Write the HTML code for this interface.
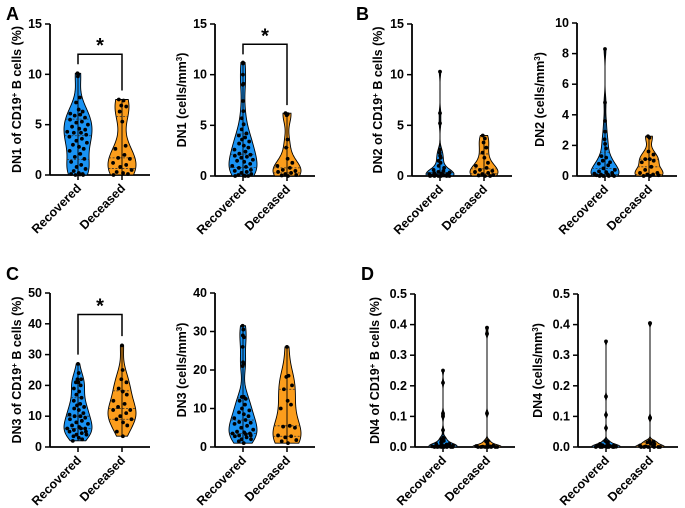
<!DOCTYPE html>
<html><head><meta charset="utf-8">
<style>
html,body{margin:0;padding:0;background:#fff;}
svg{display:block;font-family:"Liberation Sans",Arial,sans-serif;}
</style></head>
<body>
<svg id="fig" width="685" height="508" viewBox="0 0 685 508" xmlns="http://www.w3.org/2000/svg">
<text x="6" y="20" font-size="18" font-weight="bold">A</text>
<text x="356" y="20" font-size="18" font-weight="bold">B</text>
<text x="6" y="280" font-size="18" font-weight="bold">C</text>
<text x="361" y="280" font-size="18" font-weight="bold">D</text>
</svg>
<script>
const categories = ["Recovered", "Deceased"];
const dn1PctRec = [10.1,10.0,9.8,7.7,7.2,6.5,6.3,6.1,6.0,5.9,5.7,5.5,5.3,5.2,5.0,4.8,4.6,4.5,4.3,4.2,4.2,4.0,3.8,3.6,3.4,3.2,3.0,2.8,2.6,2.4,2.1,1.8,1.6,1.3,1.0,0.8,0.6,0.4,0.2,0.1,0.1,0.05,0.0,0.0];
const dn1PctDec = [7.5,7.4,6.9,6.8,6.3,5.3,2.9,2.6,2.0,1.7,1.6,1.2,1.0,0.8,0.5,0.3,0.2,0.1,0.0];
const dn1AbsRec = [11.2,11.1,10.0,9.1,9.0,7.4,6.4,5.7,5.1,4.6,4.2,4.0,3.8,3.6,3.4,3.2,3.0,2.8,2.6,2.4,2.2,2.1,2.0,1.9,1.8,1.6,1.5,1.4,1.2,1.0,0.9,0.8,0.6,0.5,0.4,0.3,0.2,0.1,0.05,0,0,0];
const dn1AbsDec = [6.2,6.1,6.0,3.6,2.8,1.7,1.3,1.0,0.8,0.6,0.5,0.4,0.3,0.2,0.1,0.05,0];
const dn2PctRec = [10.3,6.2,5.2,2.6,2.3,2.0,1.8,1.5,1.3,1.0,0.8,0.6,0.5,0.4,0.35,0.3,0.25,0.2,0.2,0.15,0.1,0.1,0.05,0.05,0,0,0,0,0,0];
const dn2PctDec = [4.0,3.7,3.3,2.8,2.3,1.8,1.3,1.0,0.8,0.6,0.5,0.4,0.3,0.2,0.1,0.05,0,0];
const dn2AbsRec = [8.3,4.8,3.6,2.9,2.4,2.1,1.8,1.3,1.2,1.0,0.9,0.8,0.7,0.5,0.4,0.3,0.25,0.2,0.15,0.1,0.1,0.05,0.05,0,0,0,0];
const dn2AbsDec = [2.6,2.5,1.6,1.4,1.1,1.1,1.0,0.9,0.6,0.4,0.2,0.2,0.1,0.1,0.05,0,0];
const dn3PctRec = [27,24,22,22,21,21,20,19,18,17,16,15,14,13.5,13,12.5,12,11,10.5,10,10,9.5,9,8.5,8,7.5,7,6.5,6,6,6,5.5,5,5,4.5,4,4,3.5,3,2.5,2];
const dn3PctDec = [33,25,22,21,19,18,17,15,14,13,12,12,11,10,9,9,8,7,5,3.5];
const dn3AbsRec = [31.5,30.5,29,28.5,26,22,21.5,21,13,13,12.5,12,11,10,9.5,9,8.5,8,7.5,7,6.5,6.3,6,5.5,5,4.5,4,3.8,3.5,3.5,3.3,3,3,2.8,2.5,2,2,1.5,1];
const dn3AbsDec = [26,18.5,18.2,16,15,12,11,10,5.5,5.3,5,3,2.8,2.5,1.8,1.5,1];
const dn4PctRec = [0.25,0.21,0.11,0.1,0.055,0.03,0.028,0.025,0.02,0.015,0.01,0.01,0.008,0.006,0.005,0.004,0.003,0.002,0.002,0.001,0.001,0,0,0,0,0,0,0];
const dn4PctDec = [0.39,0.37,0.11,0.02,0.018,0.01,0.005,0.003,0.002,0.001,0,0,0,0,0,0,0];
const dn4AbsRec = [0.345,0.165,0.105,0.062,0.02,0.018,0.015,0.01,0.008,0.006,0.005,0.004,0.003,0.002,0.001,0,0,0,0,0,0,0];
const dn4AbsDec = [0.405,0.095,0.02,0.018,0.015,0.012,0.01,0.005,0.003,0.002,0,0,0,0,0,0];
const ticks15 = [0,5,10,15];
const ticks10 = [0,2,4,6,8,10];
const ticks50 = [0,10,20,30,40,50];
const ticks40 = [0,10,20,30,40];
const ticks05 = [0,0.1,0.2,0.3,0.4,0.5];

const NS = "http://www.w3.org/2000/svg";
const svg = document.getElementById("fig");
const COLORS = ["#1a93f3", "#fb9d1c"];
const JIT = [-0.75,0.35,-0.15,0.85,-0.5,0.1,0.6,-0.9,0.25,-0.35,0.7];

function mk(tag, attrs, parent) {
  const e = document.createElementNS(NS, tag);
  for (const k in attrs) e.setAttribute(k, attrs[k]);
  (parent || svg).appendChild(e);
  return e;
}
function quant(arr, q) {
  const s = [...arr].sort((a,b)=>a-b);
  const p = (s.length-1)*q, lo = Math.floor(p), hi = Math.ceil(p);
  return s[lo] + (s[hi]-s[lo])*(p-lo);
}

function panel(cfg) {
  const g = mk("g", {});
  
  
  const yMax = cfg.ticks[cfg.ticks.length-1];
  const yScale = v => cfg.y0 - (v / yMax) * (cfg.y0 - cfg.yTop);
  const xPos = [cfg.ax + 28, cfg.ax + 72];
  const fmt = v => cfg.dec ? v.toFixed(1) : String(v);
  const yl = mk("line", {x1:cfg.ax, x2:cfg.ax, y1:cfg.yTop, y2:cfg.y0, stroke:"#000","stroke-width":1.8}, g);
  
  
  cfg.ticks.forEach(t => {
    const y = yScale(t);
    mk("line", {x1:cfg.ax-5, x2:cfg.ax, y1:y, y2:y, stroke:"#000","stroke-width":1.5}, g);
    const tx = mk("text", {x:cfg.ax-8, y:y+4, "text-anchor":"end","font-size":12.5,"font-weight":"bold"}, g);
    tx.textContent = fmt(t);
    
    
  });
  const xl = mk("line", {x1:cfg.ax, x2:cfg.ax+100, y1:cfg.y0, y2:cfg.y0, stroke:"#000","stroke-width":1.8}, g);
  
  
  const yt = mk("text", {transform:`translate(${cfg.titleX},${(cfg.yTop+cfg.y0)/2}) rotate(-90)`, "text-anchor":"middle","font-size":12.5,"font-weight":"bold"}, g);
  yt.innerHTML = cfg.title;
  
  

  cfg.data.forEach((vals, ci) => {
    const cx = xPos[ci];
    const mn = Math.min(...vals), mx = Math.max(...vals);
    const n = vals.length;
    const mean = vals.reduce((a,b)=>a+b,0)/n;
    const sd = Math.sqrt(vals.reduce((a,b)=>a+(b-mean)**2,0)/(n-1));
    const iqr = quant(vals,0.75)-quant(vals,0.25);
    const spread = iqr > 0 ? Math.min(sd, iqr/1.34) : sd;
    const h = Math.max(0.85*spread*Math.pow(n,-0.2), yMax*0.006);
    const dens = v => vals.reduce((s,d)=>s+Math.exp(-0.5*((v-d)/h)**2),0);
    const N = 120;
    const pts = [];
    let dmax = 0;
    for (let i=0;i<=N;i++){ const v = mn+(mx-mn)*i/N; const d = dens(v); pts.push([v,d]); if(d>dmax)dmax=d; }
    const W = 14;
    const hw = v => W * dens(v) / dmax;
    let dstr = "";
    pts.forEach(([v,d],i)=>{ dstr += (i?"L":"M") + (cx + W*d/dmax).toFixed(2) + "," + yScale(v).toFixed(2); });
    for (let i=pts.length-1;i>=0;i--){ const [v,d]=pts[i]; dstr += "L" + (cx - W*d/dmax).toFixed(2) + "," + yScale(v).toFixed(2); }
    dstr += "Z";
    const vp = mk("path", {d:dstr, fill:COLORS[ci], stroke:"#000","stroke-width":0.9}, g);
    
    
    const vl = mk("line", {x1:cx, x2:cx, y1:yScale(mn), y2:yScale(mx), stroke:"#000","stroke-width":0.9}, g);
    
    
    [0.25,0.5,0.75].forEach(q => {
      const v = quant(vals,q), w = hw(v), y = yScale(v);
      const ql = mk("line", {x1:cx-w, x2:cx+w, y1:y, y2:y, stroke:"#333","stroke-width":0.8,"stroke-dasharray":"2,1.5"}, g);
      
      
    });
    vals.forEach((v,i) => {
      const w = Math.max(hw(v) - 2, 0);
      const dot = mk("circle", {cx: cx + w*JIT[i%JIT.length], cy: yScale(v), r:1.9, fill:"#000"}, g);
      
      
    });
    mk("line", {x1:cx, x2:cx, y1:cfg.y0, y2:cfg.y0+5, stroke:"#000","stroke-width":1.5}, g);
    const cl = mk("text", {transform:`translate(${cx+4},${cfg.y0+14}) rotate(-45)`, "text-anchor":"end","font-size":12.5,"font-weight":"bold"}, g);
    cl.textContent = categories[ci];
    
    
  });
  if (cfg.sig) {
    const [yb, yr, yd] = cfg.sig.map(yScale);
    const br = mk("path", {d:`M${xPos[0]},${yr} V${yb} H${xPos[1]} V${yd}`, fill:"none", stroke:"#000","stroke-width":1.5}, g);
    
    
    const st = mk("text", {x:(xPos[0]+xPos[1])/2, y:yb-2, "text-anchor":"middle","font-size":20,"font-weight":"bold"}, g);
    st.textContent = "*";
    
    
  }
}
const pct = n => `${n} of CD19<tspan baseline-shift="super" font-size="8">+</tspan> B cells (%)`;
const abs = n => `${n} (cells/mm<tspan baseline-shift="super" font-size="8">3</tspan>)`;
panel({name:"chart-dn1-percent", ax:50, y0:175, yTop:24, ticks:ticks15, title:pct("DN1"), titleX:21, data:[dn1PctRec,dn1PctDec], sig:[12,11,8.4]});
panel({name:"chart-dn1-absolute", ax:215, y0:176, yTop:24, ticks:ticks15, title:abs("DN1"), titleX:186, data:[dn1AbsRec,dn1AbsDec], sig:[13,12,7]});
panel({name:"chart-dn2-percent", ax:412, y0:176, yTop:24, ticks:ticks15, title:pct("DN2"), titleX:382, data:[dn2PctRec,dn2PctDec]});
panel({name:"chart-dn2-absolute", ax:577, y0:176, yTop:23, ticks:ticks10, title:abs("DN2"), titleX:544, data:[dn2AbsRec,dn2AbsDec]});
panel({name:"chart-dn3-percent", ax:50, y0:447, yTop:293, ticks:ticks50, title:pct("DN3"), titleX:21, data:[dn3PctRec,dn3PctDec], sig:[43,30,36]});
panel({name:"chart-dn3-absolute", ax:215, y0:447, yTop:293, ticks:ticks40, title:abs("DN3"), titleX:186, data:[dn3AbsRec,dn3AbsDec]});
panel({name:"chart-dn4-percent", ax:415, y0:447, yTop:294, ticks:ticks05, title:pct("DN4"), titleX:379, data:[dn4PctRec,dn4PctDec], dec:true});
panel({name:"chart-dn4-absolute", ax:578, y0:447, yTop:294, ticks:ticks05, title:abs("DN4"), titleX:542, data:[dn4AbsRec,dn4AbsDec], dec:true});
</script>
</body></html>
